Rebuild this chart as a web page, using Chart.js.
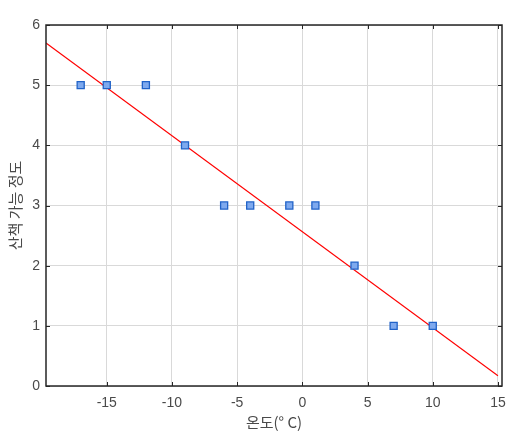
<!DOCTYPE html>
<html>
<head>
<meta charset="utf-8">
<script src="https://cdn.jsdelivr.net/npm/chart.js@4.4.1/dist/chart.umd.min.js"></script>
<style>
  html, body { margin: 0; padding: 0; background: #fff; }
</style>
</head>
<body>
<canvas id="chart" width="527" height="443"></canvas>
<script>
// 온도별 산책 가능 정도
const temps = [-17, -15, -12, -9, -6, -4, -1, 1, 4, 7, 10];
const walkScores = [5, 5, 5, 4, 3, 3, 3, 3, 2, 1, 1];

// 추세선 양 끝점
const fitX = [-19.66, 15];
const fitY = [5.70, 0.17];

const xTicks = [-15, -10, -5, 0, 5, 10, 15];
const yTicks = [0, 1, 2, 3, 4, 5, 6];

const FONT = "'Liberation Sans', Arial, 'Noto Sans CJK KR', sans-serif";
const KFONT = "'Noto Sans CJK KR', 'Liberation Sans', sans-serif";
const TEXT = '#4a4a4a';

// 박스 테두리 + 안쪽 눈금
const frame = {
  id: 'frame',
  afterDatasetsDraw(chart) {
    const {ctx, chartArea: a, scales} = chart;
    ctx.save();
    ctx.strokeStyle = '#262626';
    ctx.lineWidth = 1;
    ctx.beginPath();
    xTicks.forEach(v => {
      const px = Math.round(scales.x.getPixelForValue(v)) + 0.5;
      ctx.moveTo(px, a.bottom); ctx.lineTo(px, a.bottom - 4);
      ctx.moveTo(px, a.top); ctx.lineTo(px, a.top + 4);
    });
    yTicks.forEach(v => {
      const py = Math.round(scales.y.getPixelForValue(v)) + 0.5;
      ctx.moveTo(a.left, py); ctx.lineTo(a.left + 4, py);
      ctx.moveTo(a.right, py); ctx.lineTo(a.right - 4, py);
    });
    ctx.stroke();
    ctx.lineWidth = 1.5;
    ctx.strokeRect(a.left, a.top, a.right - a.left, a.bottom - a.top);
    ctx.restore();
  }
};

new Chart(document.getElementById('chart'), {
  type: 'scatter',
  data: {
    datasets: [
      {
        label: '추세선',
        type: 'line',
        data: fitX.map((x, i) => ({x, y: fitY[i]})),
        borderColor: '#ff0000',
        borderWidth: 1.1,
        pointRadius: 0,
        fill: false,
        order: 2
      },
      {
        label: '산책 가능 정도',
        data: temps.map((x, i) => ({x, y: walkScores[i]})),
        pointStyle: 'rect',
        pointRadius: 5,
        backgroundColor: '#7ea9ee',
        borderColor: '#2163c8',
        borderWidth: 1.3,
        order: 1
      }
    ]
  },
  options: {
    responsive: false,
    animation: false,
    layout: { padding: { top: 25, right: 25, bottom: 0, left: 0 } },
    plugins: {
      legend: { display: false },
      tooltip: { enabled: false }
    },
    scales: {
      x: {
        type: 'linear',
        min: -19.66,
        max: 15.31,
        afterBuildTicks: ax => { ax.ticks = xTicks.map(v => ({value: v})); },
        afterFit: ax => { ax.height = 57; },
        grid: { color: '#d9d9d9', drawTicks: false },
        border: { display: false },
        ticks: { padding: 9, color: TEXT, font: { family: FONT, size: 14 } },
        title: {
          display: true,
          text: '온도(° C)',
          color: TEXT,
          font: { family: KFONT, size: 15 },
          padding: { top: 0, bottom: 12 }
        }
      },
      y: {
        min: 0,
        max: 6,
        afterBuildTicks: ax => { ax.ticks = yTicks.map(v => ({value: v})); },
        afterFit: ax => { ax.width = 46; },
        grid: { color: '#d9d9d9', drawTicks: false },
        border: { display: false },
        ticks: { padding: 6, color: TEXT, font: { family: FONT, size: 14 } },
        title: {
          display: true,
          text: '산책 가능 정도',
          color: TEXT,
          font: { family: KFONT, size: 15 },
          padding: { top: 6, bottom: 0 }
        }
      }
    }
  },
  plugins: [frame]
});
</script>
</body>
</html>
